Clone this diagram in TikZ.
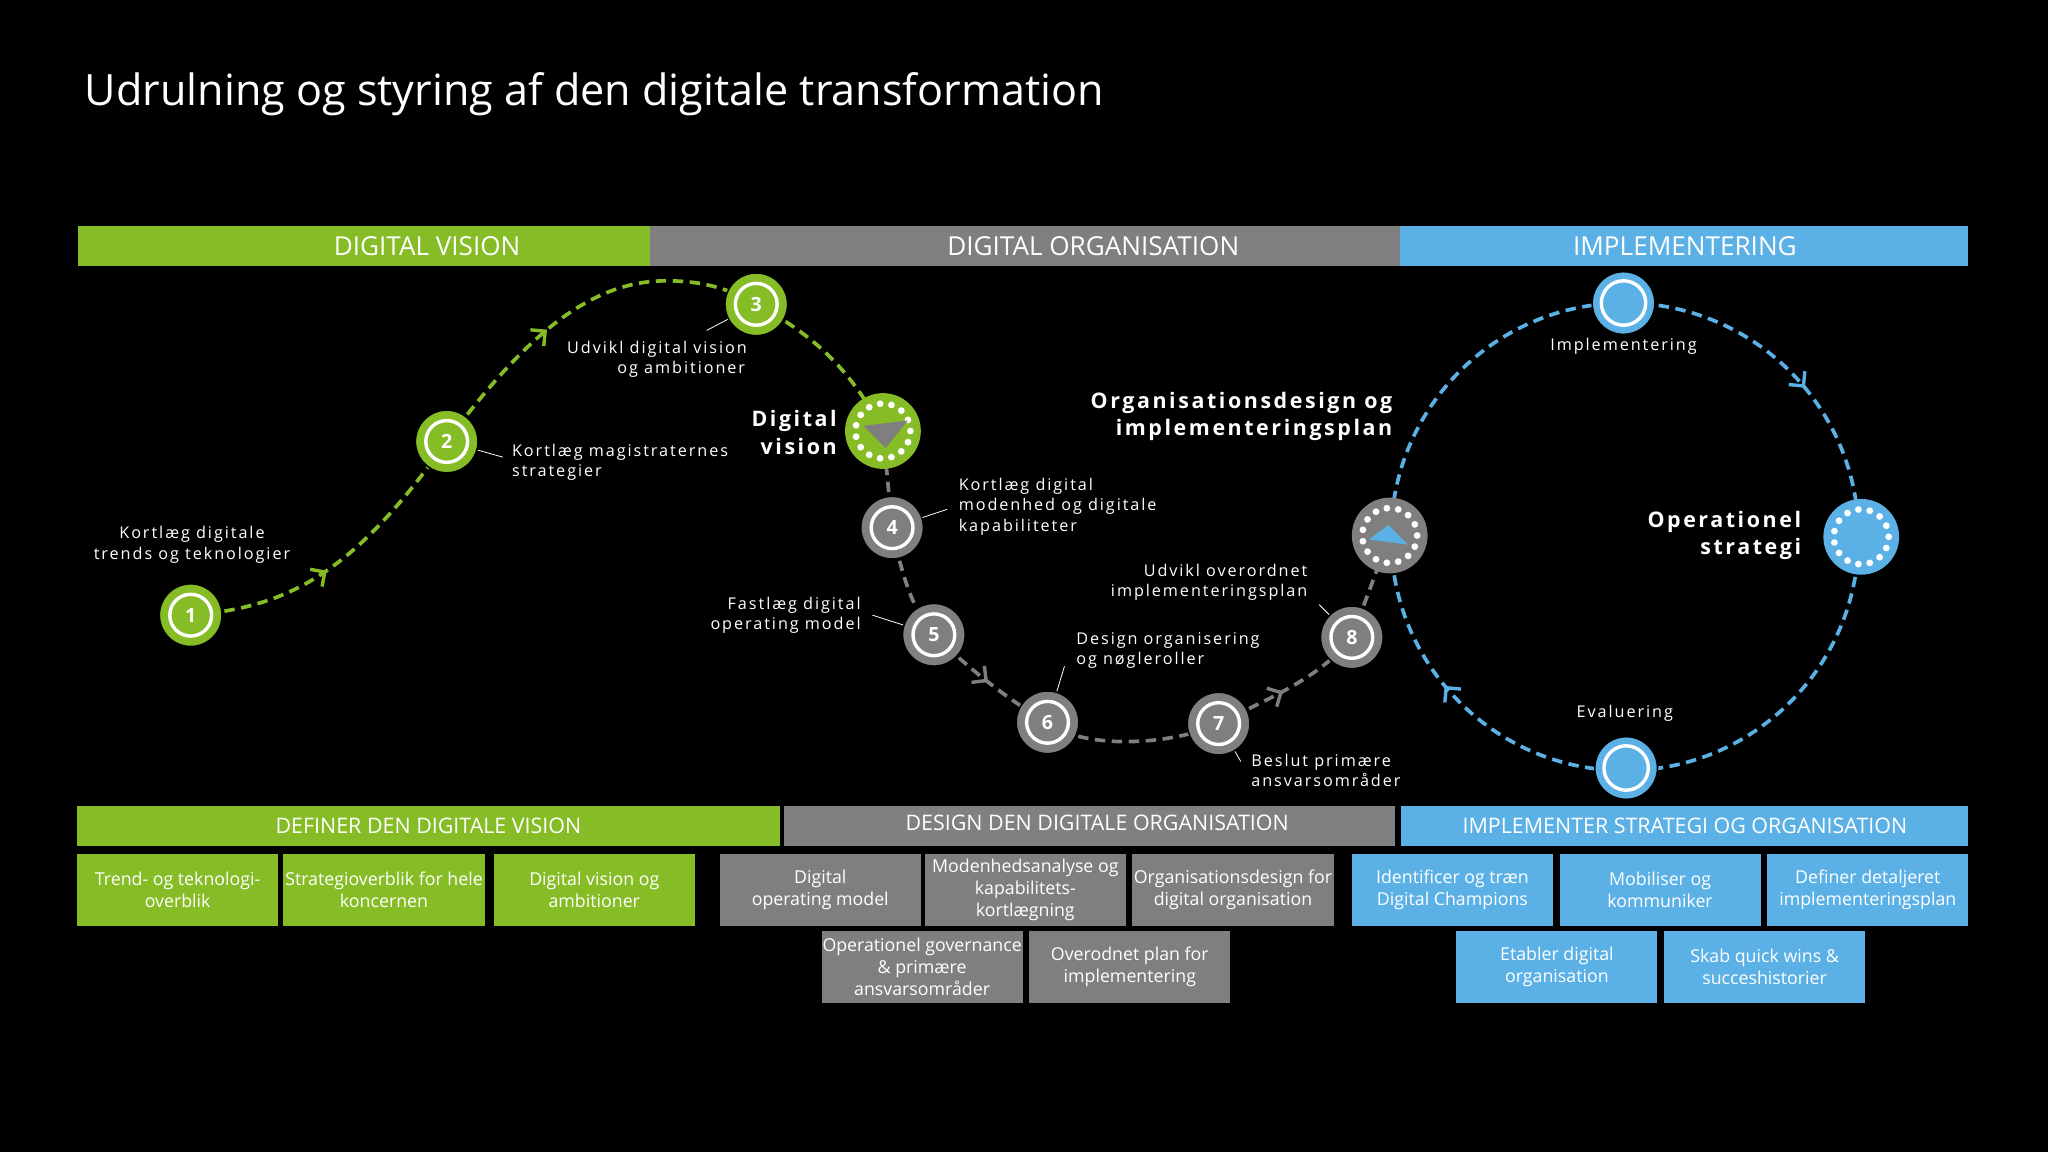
\documentclass[tikz,border=0pt]{standalone}
\usepackage{fontspec}
\setmainfont{Open Sans}
\newfontfamily\spaced[LetterSpace=12]{Open Sans}
\newfontfamily\spacedb[LetterSpace=12]{Open Sans Bold}
\usetikzlibrary{arrows.meta,decorations.markings,calc}
\definecolor{cg}{HTML}{86BC25}
\definecolor{cgr}{HTML}{7F7F7F}
\definecolor{cb}{HTML}{5BB1E6}
\definecolor{cgrh}{HTML}{808080}
\tikzset{
 hdr/.style={text=white,font=\fontsize{10}{12}\selectfont},
 hdrs/.style={text=white,font=\fontsize{8.2}{10}\selectfont},
 boxt/.style={text=white,align=center,font=\fontsize{6.8}{8.4}\selectfont},
 lbl/.style={text=white,align=#1,font=\spaced\fontsize{6.2}{7.8}\selectfont},
 blbl/.style={text=white,align=right,font=\spacedb\fontsize{8.2}{10.5}\selectfont},
 num/.style={circle,fill=#1,minimum size=24pt,inner sep=0pt,draw=black,line width=0.6pt},
 ring/.style={circle,draw=white,line width=1.3pt,minimum size=16pt,inner sep=0pt,text=white,font=\fontsize{7.5}{8}\selectfont\bfseries},
 dline/.style={dashed,dash pattern=on 4pt off 2.5pt,line width=1.4pt,draw=#1},
 lead/.style={draw=white,line width=0.3pt},
 midarrow/.style={postaction={decorate,decoration={markings,mark=at position #1 with {\arrow[line width=1.3pt]{Straight Barb[length=4pt,width=8pt]}}}}},
}
\begin{document}
\begin{tikzpicture}[x=0.5pt,y=-0.5pt]
\useasboundingbox (0,0) rectangle (1568,882);
\fill[black] (0,0) rectangle (1568,882);
\node[anchor=west,text=white,font=\fontsize{16.5}{18}\selectfont] (title) at (58,72) {Udrulning og styring af den digitale transformation};
% top bars
\fill[cg] (60,173) rectangle (498,204);
\fill[cgr] (498,173) rectangle (1072,204);
\fill[cb] (1072,173) rectangle (1507,204);
\node[hdr] (h1) at (327,188.5) {DIGITAL VISION};
\node[hdr] (h2) at (837,188.5) {DIGITAL ORGANISATION};
\node[hdr] (h3) at (1290,188.5) {IMPLEMENTERING};
% circle positions
\coordinate (c1) at (146,471); \coordinate (c2) at (342,338); \coordinate (c3) at (579,233);
\coordinate (dv) at (676,330); \coordinate (c4) at (683,404); \coordinate (c5) at (715,486);
\coordinate (c6) at (802,553); \coordinate (c7) at (933,554); \coordinate (c8) at (1035,488);
\coordinate (od) at (1064,410); \coordinate (it) at (1243,232); \coordinate (os) at (1425,411);
\coordinate (ev) at (1245,588);
% green path
\draw[dline=cg,midarrow=0.45] (c1) .. controls (220,465) and (270,440) .. (c2);
\draw[dline=cg,midarrow=0.4] (c2) .. controls (400,260) and (450,215) .. (510,215) .. controls (540,215) and (560,222) .. (c3);
\draw[dline=cg] (c3) .. controls (620,255) and (650,280) .. (dv);
% grey path
\draw[dline=cgr] (dv) -- (c4);
\draw[dline=cgr] (c4) .. controls (690,440) and (700,470) .. (c5);
\draw[dline=cgr,midarrow=0.5] (c5) .. controls (740,510) and (770,535) .. (c6);
\draw[dline=cgr] (c6) .. controls (830,575) and (900,570) .. (c7);
\draw[dline=cgr,midarrow=0.45] (c7) .. controls (970,535) and (1010,520) .. (c8);
\draw[dline=cgr] (c8) -- (od);
% blue circle
\draw[dline=cb,postaction={decorate,decoration={markings,mark=at position 0.14 with {\arrow[line width=1.3pt]{Straight Barb[length=4pt,width=8pt]}},mark=at position 0.64 with {\arrow[line width=1.3pt]{Straight Barb[length=4pt,width=8pt]}}}}] (1244,232) arc[start angle=-90,end angle=270,radius=179];
% leader lines
\draw[lead] (c3) -- (541,253);
\draw[lead] (c2) -- (385,350);
\draw[lead] (c4) -- (725,390);
\draw[lead] (c5) -- (668,471);
\draw[lead] (c6) -- (815,510);
\draw[lead] (c7) -- (950,583);
\draw[lead] (c8) -- (1010,463);
% nodes
\node[num=cg] (n1) at (c1) {}; \node[ring] (r1) at (c1) {1};
\node[num=cg] (n2) at (c2) {}; \node[ring] (r2) at (c2) {2};
\node[num=cg] (n3) at (c3) {}; \node[ring] (r3) at (c3) {3};
\node[num=cgr] (n4) at (c4) {}; \node[ring] (r4) at (c4) {4};
\node[num=cgr] (n5) at (c5) {}; \node[ring] (r5) at (c5) {5};
\node[num=cgr] (n6) at (c6) {}; \node[ring] (r6) at (c6) {6};
\node[num=cgr] (n7) at (c7) {}; \node[ring] (r7) at (c7) {7};
\node[num=cgr] (n8) at (c8) {}; \node[ring] (r8) at (c8) {8};
\node[num=cb] (ni) at (it) {}; \node[ring,minimum size=17pt] (ri) at (it) {};
\node[num=cb] (ne) at (ev) {}; \node[ring,minimum size=17pt] (re) at (ev) {};
% big icons
\node[circle,fill=cg,minimum size=29pt,inner sep=0pt] (ndv) at (dv) {};
\foreach \a in {0,24,...,359} \fill[white] ($(dv)+(\a:21)$) circle (2.6);
\fill[cgr] (661,326) -- (695,322) -- (678,343) -- cycle;
\node[circle,fill=cgr,minimum size=29pt,inner sep=0pt] (nod) at (od) {};
\foreach \a in {0,24,...,359} \fill[white] ($(od)+(\a:21)$) circle (2.6);
\fill[cb] (1048,413) -- (1063,402) -- (1078,417) -- cycle;
\node[circle,fill=cb,minimum size=29pt,inner sep=0pt] (nos) at (os) {};
\foreach \a in {0,24,...,359} \fill[white] ($(os)+(\a:21)$) circle (2.6);
% labels
\node[lbl=center] (l1) at (147,417) {Kortlæg digitale\\trends og teknologier};
\node[lbl=left,anchor=west] (l2) at (385,354) {Kortlæg magistraternes\\strategier};
\node[lbl=center] (l3) at (503,275) {Udvikl digital vision\\\hspace*{3em}og ambitioner};
\node[blbl] (ldv) at (608,331) {Digital\\vision};
\node[lbl=left,anchor=west] (l4) at (727,388) {Kortlæg digital\\modenhed og digitale\\kapabiliteter};
\node[lbl=right,anchor=east] (l5) at (666,471) {Fastlæg digital\\operating model};
\node[lbl=left,anchor=west] (l6) at (817,498) {Design organisering\\og nøgleroller};
\node[lbl=left,anchor=west] (l7) at (951,590) {Beslut primære\\ansvarsområder};
\node[lbl=right,anchor=east] (l8) at (1008,446) {Udvikl overordnet\\implementeringsplan};
\node[blbl,anchor=east] (lod) at (1073,319) {Organisationsdesign og\\implementeringsplan};
\node[lbl=center] (li) at (1243,265) {Implementering};
\node[blbl,anchor=east] (los) at (1386,410) {Operationel\\strategi};
\node[lbl=center] (le) at (1244,546) {Evaluering};
% bottom headers
\fill[cg] (59,617) rectangle (597,648);
\fill[cgrh] (600,617) rectangle (1068,648);
\fill[cb] (1073,617) rectangle (1507,648);
\node[hdrs] (b1) at (328,632) {DEFINER DEN DIGITALE VISION};
\node[hdrs] (b2) at (840,630) {DESIGN DEN DIGITALE ORGANISATION};
\node[hdrs] (b3) at (1290,632) {IMPLEMENTER STRATEGI OG ORGANISATION};
% boxes
\foreach \x/\y/\c/\t [count=\i] in {
 59/654/cg/{Trend- og teknologi-\\overblik},
 217/654/cg/{Strategioverblik for hele\\koncernen},
 378/654/cg/{Digital vision og\\ambitioner},
 551/654/cgr/{Digital\\operating model},
 708/654/cgr/{Modenhedsanalyse og\\kapabilitets-\\kortlægning},
 867/654/cgr/{Organisationsdesign for\\digital organisation},
 1035/654/cb/{Identificer og træn\\Digital Champions},
 1194/654/cb/{Mobiliser og\\kommuniker},
 1353/654/cb/{Definer detaljeret\\implementeringsplan},
 629/713/cgr/{Operationel governance\\\& primære\\ansvarsområder},
 788/713/cgr/{Overodnet plan for\\implementering},
 1115/713/cb/{Etabler digital\\organisation},
 1274/713/cb/{Skab quick wins \&\\succeshistorier}}
{
 \fill[\c] (\x,\y) rectangle ++(154,55);
 \node[boxt] (bx\i) at ($(\x,\y)+(77,27.5)$) {\t};
}
\end{tikzpicture}
\end{document}
